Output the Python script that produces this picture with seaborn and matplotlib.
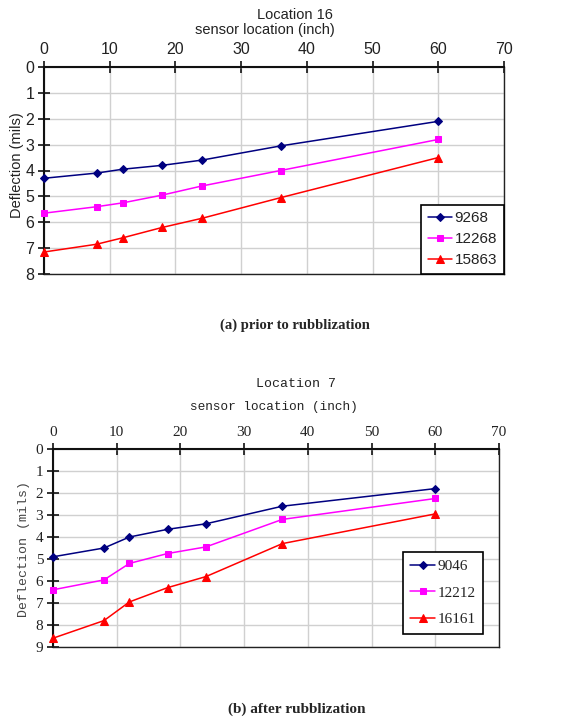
import pandas as pd
import numpy as np
import matplotlib.pyplot as plt
import seaborn as sns

# ================================
# data read off the two FWD deflection basins
# ================================
sensor_in = [0, 8, 12, 18, 24, 36, 60]

# (a) Location 16, prior to rubblization
loads_a = ["9268", "12268", "15863"]
defl_9268 = [4.3, 4.1, 3.95, 3.8, 3.6, 3.05, 2.1]
defl_12268 = [5.65, 5.4, 5.25, 4.95, 4.6, 4.0, 2.8]
defl_15863 = [7.15, 6.85, 6.6, 6.2, 5.85, 5.05, 3.5]

# (b) Location 7, after rubblization
loads_b = ["9046", "12212", "16161"]
defl_9046 = [4.9, 4.5, 4.0, 3.65, 3.4, 2.6, 1.8]
defl_12212 = [6.4, 5.95, 5.2, 4.75, 4.45, 3.2, 2.25]
defl_16161 = [8.6, 7.8, 6.95, 6.3, 5.8, 4.3, 2.95]

x_ticks = [0, 10, 20, 30, 40, 50, 60, 70]

colors = ["#000080", "#ff00ff", "#ff0000"]
markers = ["D", "s", "^"]


def long_df(loads, series):
    rows = []
    for name, vals in zip(loads, series):
        for s, d in zip(sensor_in, vals):
            rows.append({"sensor": s, "defl": d, "load": name})
    return pd.DataFrame(rows)


df_a = long_df(loads_a, [defl_9268, defl_12268, defl_15863])
df_b = long_df(loads_b, [defl_9046, defl_12212, defl_16161])

sns.set_style("ticks")
plt.rcParams["font.family"] = ["Liberation Sans", "DejaVu Sans"]

fig = plt.figure(figsize=(5.86, 7.24), dpi=100)
W, H = 586, 724


def px_axes(x0, y0, x1, y1):
    return fig.add_axes([x0 / W, 1 - y1 / H, (x1 - x0) / W, (y1 - y0) / H])


def basin(ax, df, loads, ymax, font, fsize, tcolor, msizes, leg_size, leg_kw):
    sns.lineplot(data=df, x="sensor", y="defl", hue="load", style="load",
                 hue_order=loads, style_order=loads, palette=colors,
                 markers=markers, dashes=False, legend=False, ax=ax,
                 linewidth=1.1)
    for ln, ms in zip(ax.lines, msizes):
        ln.set_markeredgecolor(ln.get_color())
        ln.set_markersize(ms)
        ln.set_clip_on(False)
        ln.set_zorder(5)
    ax.set_xlim(0, 70)
    ax.set_ylim(ymax, 0)
    ax.set_xticks(x_ticks)
    ax.set_yticks(range(0, ymax + 1))
    ax.xaxis.tick_top()
    ax.set_xlabel("")
    ax.set_ylabel("")
    ax.grid(True, color="#d0d0d0", linewidth=1.0)
    ax.set_axisbelow(True)
    for side in ["top", "left"]:
        ax.spines[side].set_linewidth(1.5)
        ax.spines[side].set_color("#111111")
    for side in ["right", "bottom"]:
        ax.spines[side].set_linewidth(1.0)
        ax.spines[side].set_color("#222222")
    ax.tick_params(direction="inout", length=8, width=1.2, labelsize=fsize,
                   color="#111111", labelcolor=tcolor, pad=3)
    for lab in ax.get_xticklabels() + ax.get_yticklabels():
        lab.set_fontfamily(font)
    leg = ax.legend(ax.lines, loads, fancybox=False, frameon=True,
                    edgecolor="black", framealpha=1,
                    prop={"family": font, "size": leg_size}, **leg_kw)
    leg.get_frame().set_linewidth(1.2)
    for t in leg.get_texts():
        t.set_color(tcolor)
    return ax


# ---- (a) prior to rubblization ----
ax1 = px_axes(44, 67, 504, 274)
basin(ax1, df_a, loads_a, 8, ["Liberation Sans", "DejaVu Sans"], 11.5,
      "#222222", [4, 5, 5.5], 11,
      dict(loc="lower right", bbox_to_anchor=(1.0, 0.0), handlelength=1.6,
           handletextpad=0.15, labelspacing=0.45, borderpad=0.45,
           borderaxespad=0.0))
fig.text(295 / W, 1 - 15 / H, "Location 16", ha="center", va="center",
         fontsize=10.5, color="#222222")
fig.text(265 / W, 1 - 30 / H, "sensor location (inch)", ha="center",
         va="center", fontsize=10.5, color="#222222")
fig.text(17 / W, 1 - 165 / H, "Deflection (mils)", rotation=90, ha="center",
         va="center", fontsize=10.5, color="#222222")
fig.text(295 / W, 1 - 325 / H, "(a) prior to rubblization", ha="center",
         va="center", fontsize=10.5, fontweight="bold",
         family=["Liberation Serif", "DejaVu Serif"])

# ---- (b) after rubblization ----
mono = ["Liberation Mono", "DejaVu Sans Mono"]
serif = ["Liberation Serif", "DejaVu Serif"]
ax2 = px_axes(53, 449, 499, 647)
basin(ax2, df_b, loads_b, 9, serif, 11, "#222222", [4, 5, 5.5], 11,
      dict(loc="lower right", bbox_to_anchor=(0.964, 0.066), handlelength=1.6,
           handletextpad=0.15, labelspacing=0.85, borderpad=0.5,
           borderaxespad=0.0))
fig.text(296 / W, 1 - 384 / H, "Location 7", ha="center", va="center",
         fontsize=9.5, color="#222222", family=mono)
fig.text(274 / W, 1 - 407 / H, "sensor location (inch)", ha="center",
         va="center", fontsize=9.2, color="#222222", family=mono)
fig.text(24 / W, 1 - 549 / H, "Deflection (mils)", rotation=90, ha="center",
         va="center", fontsize=9.5, color="#444444", family=mono)
fig.text(297 / W, 1 - 709 / H, "(b) after rubblization", ha="center",
         va="center", fontsize=11, fontweight="bold", family=serif)

fig.savefig("out.png", dpi=100)
